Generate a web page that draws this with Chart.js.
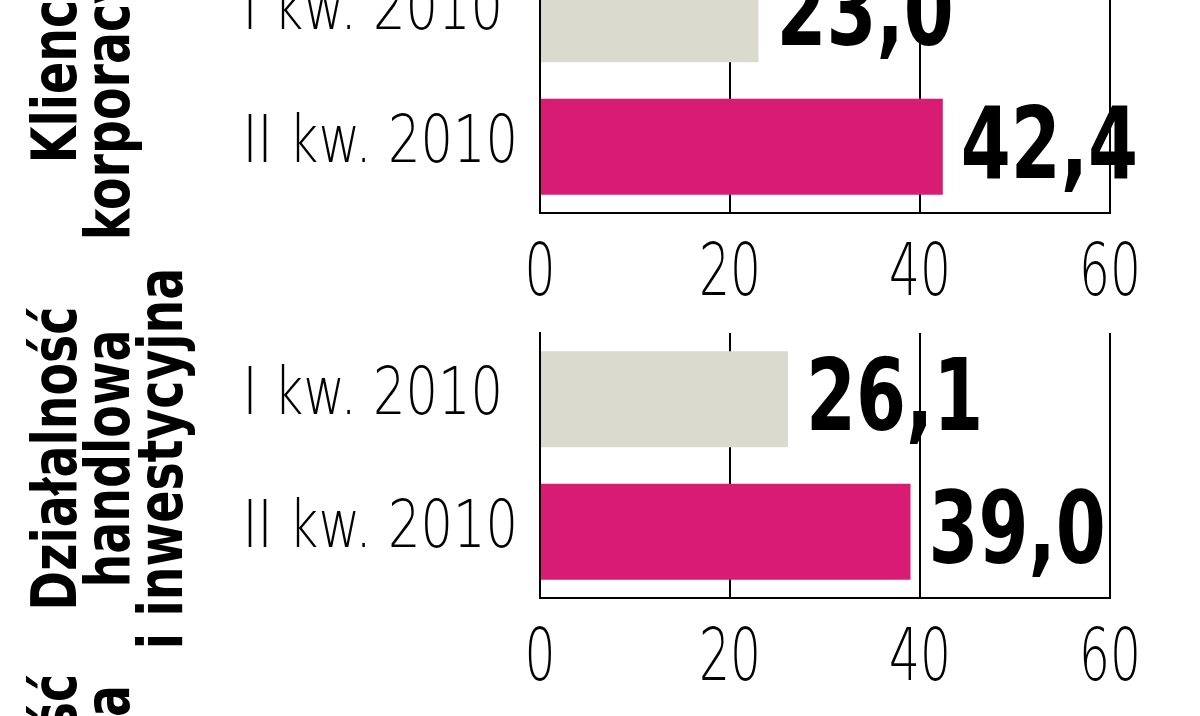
<!DOCTYPE html>
<html><head><meta charset="utf-8">
<script src="https://cdn.jsdelivr.net/npm/chart.js@4"></script>
<style>
html,body{margin:0;padding:0;background:#fff;overflow:hidden;width:1200px;height:716px;position:relative}
.panel{position:absolute;left:0;width:1200px;height:435px}
</style></head><body>
<div class="panel" style="top:-122px"><canvas id="c1"></canvas></div>
<div class="panel" style="top:263px"><canvas id="c2"></canvas></div>
<div class="panel" style="top:648px"><canvas id="c3"></canvas></div>
<script>
const categories = ['I kw. 2010', 'II kw. 2010'];
const xTicks = [0, 20, 40, 60];
const titleKlienci = ['Klienci', 'korporacyjni'];
const titleDzialalnosc = ['Działalność', 'handlowa', 'i inwestycyjna'];
const titleBankowosc = ['Bankowość', 'detaliczna'];
const klienciKorporacyjni = [23.0, 42.4];
const dzialalnoscHandlowa = [26.1, 39.0];
const bankowoscDetaliczna = [null, null]; // panel below the crop, values not visible

const barColors = ['#dadace', '#d81b73'];
const COND = "'DejaVu Sans Condensed', 'DejaVu Sans', sans-serif";
const LIGHT = "'DejaVu Sans', sans-serif";

// horizontal condensing factor so that a digit is `digitPx` wide in the given font
function fitFactor(ctx, font, digitPx) {
  ctx.save(); ctx.font = font;
  const w = ctx.measureText('0').width;
  ctx.restore();
  return digitPx / w;
}
function drawScaled(ctx, text, x, y, font, sx, align, rot) {
  ctx.save();
  ctx.translate(x, y);
  if (rot) ctx.rotate(rot);
  ctx.scale(sx, 1);
  ctx.font = font;
  ctx.textAlign = align;
  ctx.textBaseline = 'middle';
  ctx.fillStyle = '#000';
  ctx.fillText(text, 0, 0);
  ctx.restore();
}

const valueLabels = {
  id: 'valueLabels',
  afterDatasetsDraw(chart) {
    const ctx = chart.ctx;
    const meta = chart.getDatasetMeta(0);
    const data = chart.data.datasets[0].data;
    const font = 'bold 100px ' + COND;
    const sx = fitFactor(ctx, font, 50);
    meta.data.forEach((bar, i) => {
      const v = data[i];
      if (v == null) return;
      drawScaled(ctx, v.toFixed(1).replace('.', ','), bar.x + 18, bar.y + 5, font, sx, 'left');
    });
  }
};

const axisLabels = {
  id: 'axisLabels',
  afterDraw(chart) {
    const ctx = chart.ctx, xs = chart.scales.x, ys = chart.scales.y;
    const xf = '200 73px ' + LIGHT;
    const xsx = fitFactor(ctx, xf, 31);
    xs.ticks.forEach(t => {
      drawScaled(ctx, String(t.value), xs.getPixelForValue(t.value), xs.top + 63, xf, xsx, 'center');
    });
    const yf = '200 66px ' + LIGHT;
    const ysx = fitFactor(ctx, yf, 32.5);
    ctx.save(); ctx.font = yf;
    const widest = Math.max(...ys.ticks.map(t => ctx.measureText(ys.getLabelForValue(t.value)).width)) * ysx;
    ctx.restore();
    const left = ys.right - 22 - widest;
    ys.ticks.forEach((t, i) => {
      drawScaled(ctx, ys.getLabelForValue(t.value), left, ys.getPixelForTick(i) - 2, yf, ysx, 'left');
    });
  }
};

function makeTitlePlugin(lines, shift) {
  return {
    id: 'segmentTitle',
    afterDraw(chart) {
      const {ctx, chartArea} = chart;
      const font = 'bold 63px ' + COND;
      const sx = fitFactor(ctx, font, 33);
      const cy = (chartArea.top + chartArea.bottom) / 2 + shift;
      lines.forEach((line, i) => {
        drawScaled(ctx, line, 60 + i * 53, cy, font, sx, 'center', -Math.PI / 2);
      });
    }
  };
}

function buildPanel(id, values, titleLines, titleShift) {
  return new Chart(document.getElementById(id), {
    type: 'bar',
    data: {
      labels: categories,
      datasets: [{
        data: values,
        backgroundColor: barColors,
        borderWidth: 0,
        barPercentage: 0.725,
        categoryPercentage: 1
      }]
    },
    options: {
      indexAxis: 'y',
      responsive: true,
      maintainAspectRatio: false,
      animation: false,
      devicePixelRatio: 1,
      layout: {padding: {top: 70, right: 90, left: 0, bottom: 0}},
      plugins: {legend: {display: false}, tooltip: {enabled: false}},
      scales: {
        x: {
          type: 'linear', min: 0, max: 60, position: 'bottom',
          afterBuildTicks: s => { s.ticks = xTicks.map(v => ({value: v})); },
          afterFit: s => { s.height = 100; },
          grid: {color: '#000', lineWidth: 2, drawTicks: false},
          border: {display: true, color: '#000', width: 2},
          ticks: {display: false}
        },
        y: {
          position: 'left',
          afterFit: s => { s.width = 540; },
          grid: {display: false},
          border: {display: true, color: '#000', width: 2},
          ticks: {display: false}
        }
      }
    },
    plugins: [valueLabels, axisLabels, makeTitlePlugin(titleLines, titleShift)]
  });
}

buildPanel('c1', klienciKorporacyjni, titleKlienci, -7);
buildPanel('c2', dzialalnoscHandlowa, titleDzialalnosc, -7);
buildPanel('c3', bankowoscDetaliczna, titleBankowosc, -28);
</script>
</body></html>
